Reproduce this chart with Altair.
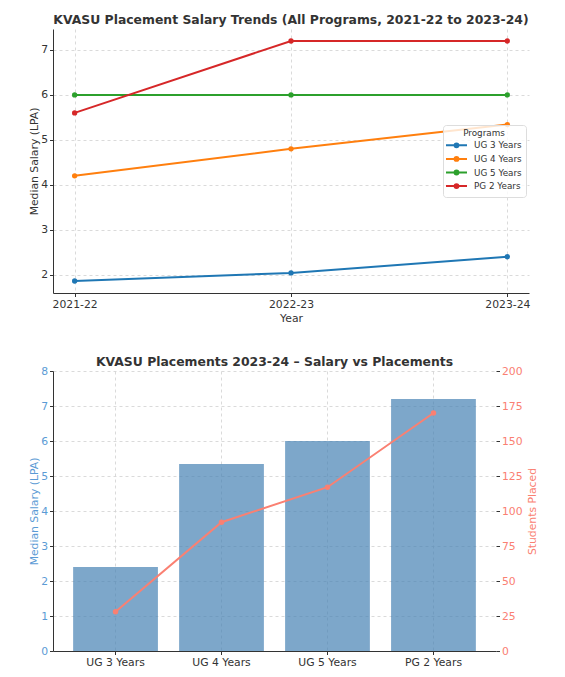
import pandas as pd
import altair as alt

# Trend data (median salary, LPA)
years = ["2021-22", "2022-23", "2023-24"]
programs = ["UG 3 Years", "UG 4 Years", "UG 5 Years", "PG 2 Years"]
ug3_salary = [1.86, 2.04, 2.40]
ug4_salary = [4.20, 4.80, 5.34]
ug5_salary = [6.00, 6.00, 6.00]
pg2_salary = [5.60, 7.20, 7.20]

# 2023-24 snapshot
salary_2324 = [2.40, 5.34, 6.00, 7.20]
students_placed = [28, 92, 117, 170]

program_colors = ["#1f77b4", "#ff7f0e", "#2ca02c", "#d62728"]
FONT = "DejaVu Sans"

trend = pd.DataFrame({
    "year": years * 4,
    "program": [p for p in programs for _ in years],
    "salary": ug3_salary + ug4_salary + ug5_salary + pg2_salary,
})
snapshot = pd.DataFrame({
    "program": programs,
    "salary": salary_2324,
    "students": students_placed,
})

grid_style = dict(grid=True, gridDash=[3, 3], gridColor="#d0d0d0", gridWidth=0.8)

# line with a dot in the middle, like a matplotlib legend handle
legend_symbol = "M -3 0 L 3 0 M 0.55 0 A 0.55 0.55 0 1 1 -0.55 0 A 0.55 0.55 0 1 1 0.55 0"

top = alt.Chart(trend, title="KVASU Placement Salary Trends (All Programs, 2021-22 to 2023-24)").mark_line(
    strokeWidth=2,
    point=alt.OverlayMarkDef(shape="circle", size=28, filled=True, opacity=1),
).encode(
    x=alt.X("year:O", title="Year", sort=years,
            scale=alt.Scale(type="point", padding=0.1),
            axis=alt.Axis(labelAngle=0, titlePadding=3, **grid_style)),
    y=alt.Y("salary:Q", title="Median Salary (LPA)",
            scale=alt.Scale(domain=[1.593, 7.467], nice=False, zero=False),
            axis=alt.Axis(values=[2, 3, 4, 5, 6, 7], **grid_style)),
    color=alt.Color("program:N", sort=programs,
                    scale=alt.Scale(domain=programs, range=program_colors),
                    legend=alt.Legend(title="Programs", orient="none", legendX=390, legendY=96,
                                      symbolType=legend_symbol, symbolSize=49, symbolStrokeWidth=2,
                                      symbolOffset=5, labelOffset=13,
                                      titleFontSize=8.8, labelFontSize=8.8, titleFontWeight="normal",
                                      titleAnchor="middle", titlePadding=3, rowPadding=0.6, padding=4,
                                      strokeColor="#dddddd", fillColor="rgba(255,255,255,0.8)",
                                      cornerRadius=3)),
).properties(width=476, height=264)

bars = alt.Chart(snapshot).mark_bar(color="#4682b4", opacity=0.7).encode(
    x=alt.X("program:N", title=None, sort=programs,
            scale=alt.Scale(paddingInner=0.2, paddingOuter=0.19),
            axis=alt.Axis(labelAngle=0, bandPosition=0.5, **grid_style)),
    y=alt.Y("salary:Q", title="Median Salary (LPA)",
            scale=alt.Scale(domain=[0, 8], nice=False),
            axis=alt.Axis(values=list(range(9)), labelColor="#5b9bd5", titleColor="#5b9bd5",
                          **grid_style)),
)

line = alt.Chart(snapshot).mark_line(
    color="#fa8072", strokeWidth=2,
    point=alt.OverlayMarkDef(color="#fa8072", size=30, filled=True, opacity=1),
).encode(
    x=alt.X("program:N", sort=programs),
    y=alt.Y("students:Q", title="Students Placed",
            scale=alt.Scale(domain=[0, 200], nice=False),
            axis=alt.Axis(orient="right", values=list(range(0, 201, 25)), domain=False, grid=False,
                          labelColor="#fa8072", titleColor="#fa8072", titlePadding=4,
                          titleAngle=270, titleBaseline="top")),
)

bottom = alt.layer(
    bars, line,
    title=alt.TitleParams("KVASU Placements 2023-24 \u2013 Salary vs Placements", offset=-3),
).resolve_scale(
    y="independent"
).properties(width=443, height=280)

chart = alt.vconcat(top, bottom, spacing=31).properties(
    padding={"left": 20, "top": 5, "right": 5, "bottom": 5}
).configure(
    font=FONT,
).configure_view(
    stroke=None,
).configure_axis(
    labelFont=FONT, titleFont=FONT, labelFontSize=10.8, titleFontSize=10.8,
    titleFontWeight="normal", labelColor="#333333", titleColor="#333333",
    domainColor="#333333", tickColor="#333333", tickSize=3.5, labelPadding=2, titlePadding=1,
).configure_title(
    font=FONT, fontSize=12.4, fontWeight="bold", color="#333333", anchor="middle", offset=3,
).configure_legend(
    labelFont=FONT, titleFont=FONT, labelColor="#333333", titleColor="#333333",
)

chart.save("out.html", embed_options={"renderer": "svg", "actions": False})
